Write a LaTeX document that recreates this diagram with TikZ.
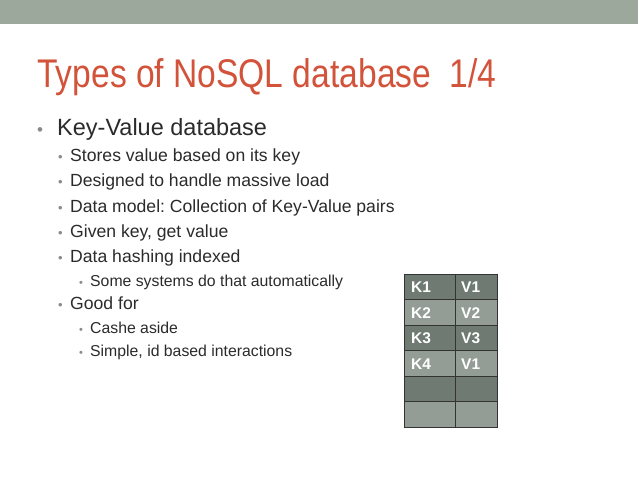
\documentclass[tikz,border=0pt]{standalone}
\usepackage{fontspec}
\setmainfont{Liberation Sans}
\frenchspacing
\definecolor{bar}{HTML}{9BA89B}
\definecolor{ttl}{HTML}{D2533A}
\definecolor{txt}{HTML}{2B2B2B}
\definecolor{bul}{HTML}{8A8A8A}
\definecolor{dk}{HTML}{6F7A72}
\definecolor{lt}{HTML}{939C95}
\begin{document}
\begin{tikzpicture}[x=1pt,y=-1pt,
  t1/.style={anchor=base west,inner sep=0,text=txt,font=\fontsize{23.5}{28}\selectfont},
  t2/.style={anchor=base west,inner sep=0,text=txt,font=\fontsize{17.6}{21}\selectfont},
  t3/.style={anchor=base west,inner sep=0,text=txt,font=\fontsize{15.8}{19}\selectfont},
  b/.style={anchor=base west,inner sep=0,text=bul},
  cell/.style={draw=black!80,line width=0.8pt},
  ct/.style={anchor=base west,inner sep=0,text=white,font=\bfseries\fontsize{15.5}{18}\selectfont}]
\useasboundingbox (0,0) rectangle (638,478);
\fill[white] (0,0) rectangle (638,478);
\fill[bar] (0,0) rectangle (638,24);
\node[anchor=base west,inner sep=0,text=ttl,font=\fontsize{40}{48}\selectfont,xscale=0.84] (title) at (37,88) {Types of NoSQL database\ \ 1/4};
\node[b,font=\fontsize{17}{20}\selectfont] (b1) at (37,136) {•};
\node[t1] (l1) at (57,136) {Key-Value database};
\foreach \y/\s [count=\i] in {162/Stores value based on its key,187/Designed to handle massive load,213/Data model: Collection of Key-Value pairs,238/{Given key, get value},263/Data hashing indexed,310/Good for}{
  \node[b,font=\fontsize{13}{15}\selectfont] (bb\i) at (58,\y) {•};
  \node[t2] (s\i) at (70,\y) {\s};}
\foreach \y/\s [count=\i] in {287/Some systems do that automatically,334/Cashe aside,357/{Simple, id based interactions}}{
  \node[b,font=\fontsize{11}{13}\selectfont] (bc\i) at (79,\y) {•};
  \node[t3] (u\i) at (90,\y) {\s};}
\foreach \r/\c/\k/\v in {0/dk/K1/V1,1/lt/K2/V2,2/dk/K3/V3,3/lt/K4/V1,4/dk//,5/lt//}{
  \pgfmathsetmacro{\ya}{274+25.5*\r}\pgfmathsetmacro{\yb}{274+25.5*(\r+1)}
  \fill[\c] (404,\ya) rectangle (497,\yb);
  \node[ct] (k\r) at (411,\ya+19) {\k};
  \node[ct] (v\r) at (461,\ya+19) {\v};}
\foreach \r in {1,...,5}{\draw[black!80,line width=0.8pt] (404,274+25.5*\r) -- (497,274+25.5*\r);}
\draw[black!80,line width=0.8pt] (455,274) -- (455,427);
\draw[cell] (404,274) rectangle (497,427);
\end{tikzpicture}
\end{document}
